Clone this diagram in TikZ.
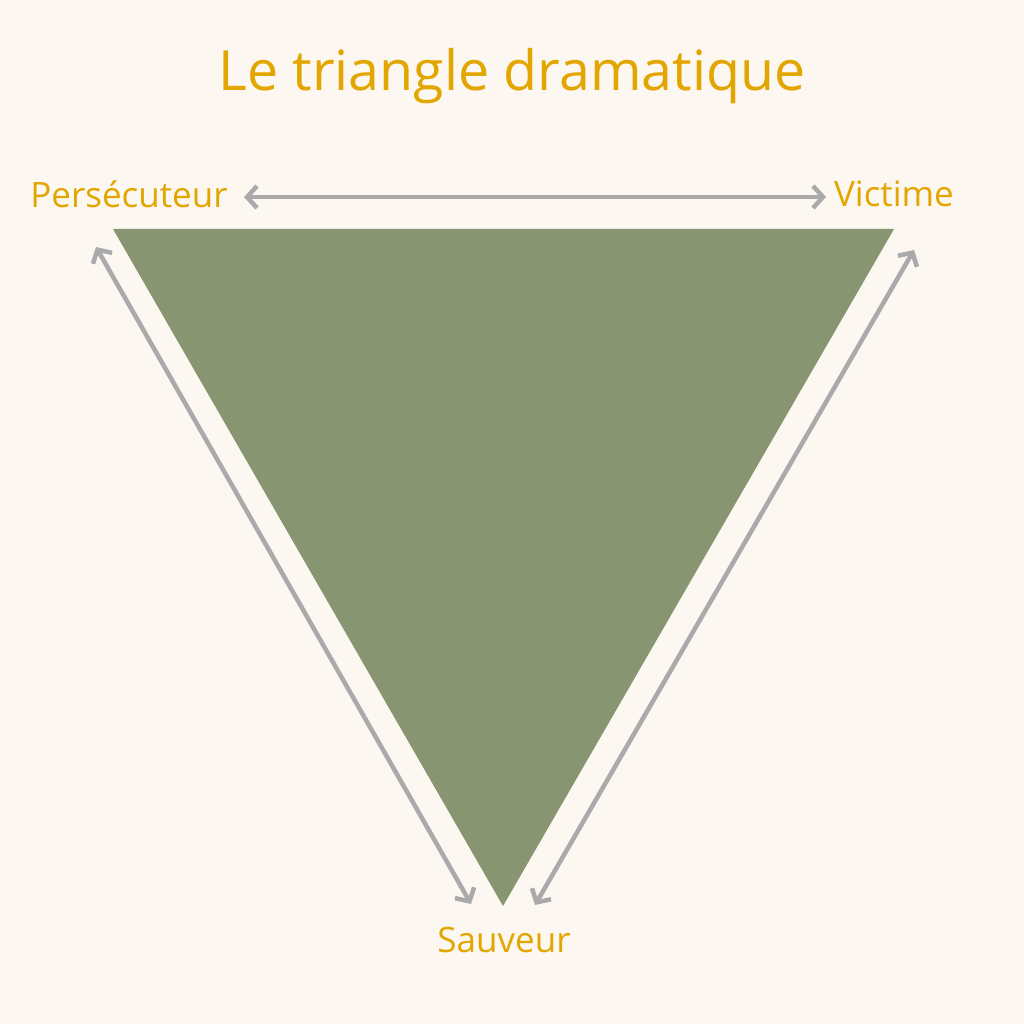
\documentclass[tikz,border=0pt]{standalone}
\usepackage{fontspec}
\setmainfont{Open Sans}
\usetikzlibrary{arrows.meta}
\definecolor{bg}{HTML}{FCF7F1}
\definecolor{gold}{HTML}{E3A600}
\definecolor{tri}{HTML}{879571}
\definecolor{arr}{HTML}{AAAAAA}
\begin{document}
\begin{tikzpicture}[x=1pt,y=-1pt,
  lbl/.style={text=gold,font=\fontsize{35}{40}\selectfont,inner sep=0pt},
  conn/.style={draw=arr,line width=4.5pt,{Straight Barb[length=10pt,width=22pt,line width=4.5pt]}-{Straight Barb[length=10pt,width=22pt,line width=4.5pt]}}]
\fill[bg] (0,0) rectangle (1024,1024);
\useasboundingbox (0,0) rectangle (1024,1024);
\node[text=gold,font=\fontsize{55.5}{62}\selectfont,inner sep=0pt] (title) at (512,76) {Le triangle dramatique};
\node[lbl] (p) at (129,194) {Persécuteur};
\node[lbl] (v) at (894,194) {Victime};
\node[lbl] (s) at (504,940) {Sauveur};
\coordinate (A) at (113,229);
\coordinate (B) at (894,229);
\coordinate (C) at (503,906);
\fill[tri] (A) -- (B) -- (C) -- cycle;
\coordinate (t1) at (244,197);
\coordinate (t2) at (826,197);
\coordinate (l1) at (96,247);
\coordinate (l2) at (471,904);
\coordinate (r1) at (914,250);
\coordinate (r2) at (535,905);
\draw[conn] (t1) -- (t2);
\draw[conn] (l1) -- (l2);
\draw[conn] (r1) -- (r2);
\end{tikzpicture}
\end{document}
